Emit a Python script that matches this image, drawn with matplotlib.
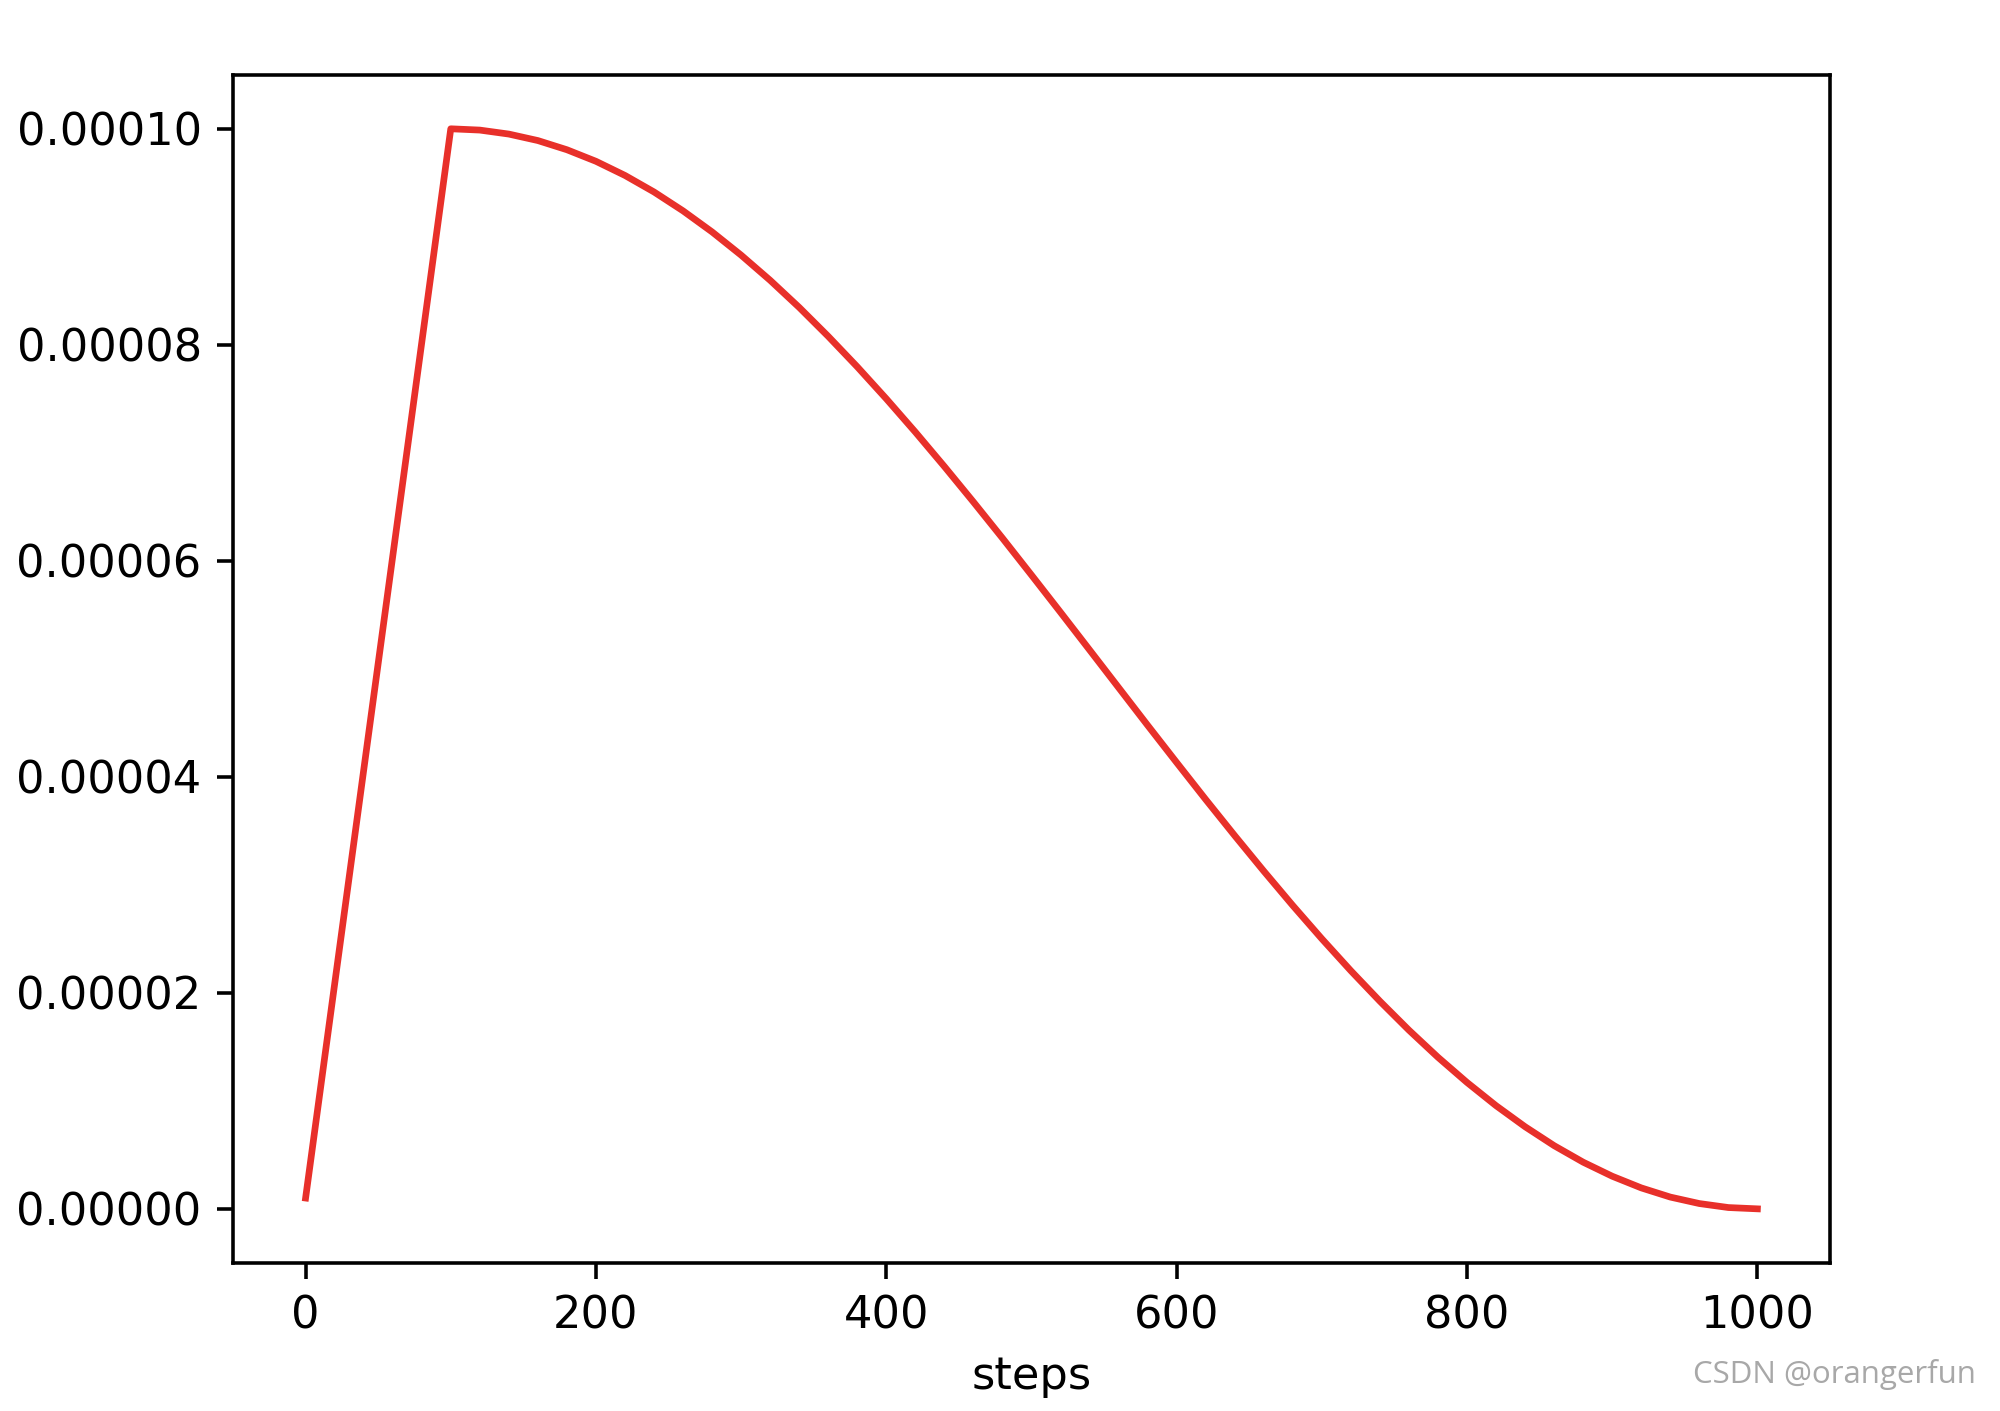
import numpy as np
from matplotlib import pyplot as plt

# learning rate schedule (warmup then cosine decay),
# values as a fraction of the peak lr
steps = [0, 100, 120, 140, 160, 180, 200, 220, 240, 260, 280, 300, 320, 340,
         360, 380, 400, 420, 440, 460, 480, 500, 520, 540, 560, 580, 600,
         620, 640, 660, 680, 700, 720, 740, 760, 780, 800, 820, 840, 860,
         880, 900, 920, 940, 960, 980, 1000]
lr = [0.0100, 1.0000, 0.9988, 0.9951, 0.9891, 0.9806, 0.9699, 0.9568,
      0.9415, 0.9240, 0.9045, 0.8830, 0.8597, 0.8346, 0.8078, 0.7796,
      0.7500, 0.7192, 0.6873, 0.6545, 0.6210, 0.5868, 0.5523, 0.5175,
      0.4826, 0.4477, 0.4132, 0.3790, 0.3455, 0.3127, 0.2808, 0.2500,
      0.2204, 0.1922, 0.1654, 0.1403, 0.1170, 0.0955, 0.0760, 0.0585,
      0.0432, 0.0302, 0.0194, 0.0109, 0.0049, 0.0012, 0.0000]
lr_scale = 1e-4


def main():
    fig = plt.figure(figsize=(2000 / 322, 1411 / 322), dpi=322)
    ax = fig.add_axes([0.1165, 0.105, 0.7985, 0.842])
    ax.plot(steps, np.array(lr) * lr_scale, color='#e8302a', lw=1.5)
    ax.set_xlabel('steps')
    ax.set_yticks([0, 2e-5, 4e-5, 6e-5, 8e-5, 1e-4])
    ax.set_yticklabels(['0.00000', '0.00002', '0.00004', '0.00006',
                        '0.00008', '0.00010'])
    fig.text(0.988, 0.026, 'CSDN @orangerfun', ha='right', va='center',
             fontsize=7, color='#a8a8a8', family='Open Sans')
    fig.savefig('out.png', dpi=322)


if __name__ == "__main__":
    main()
